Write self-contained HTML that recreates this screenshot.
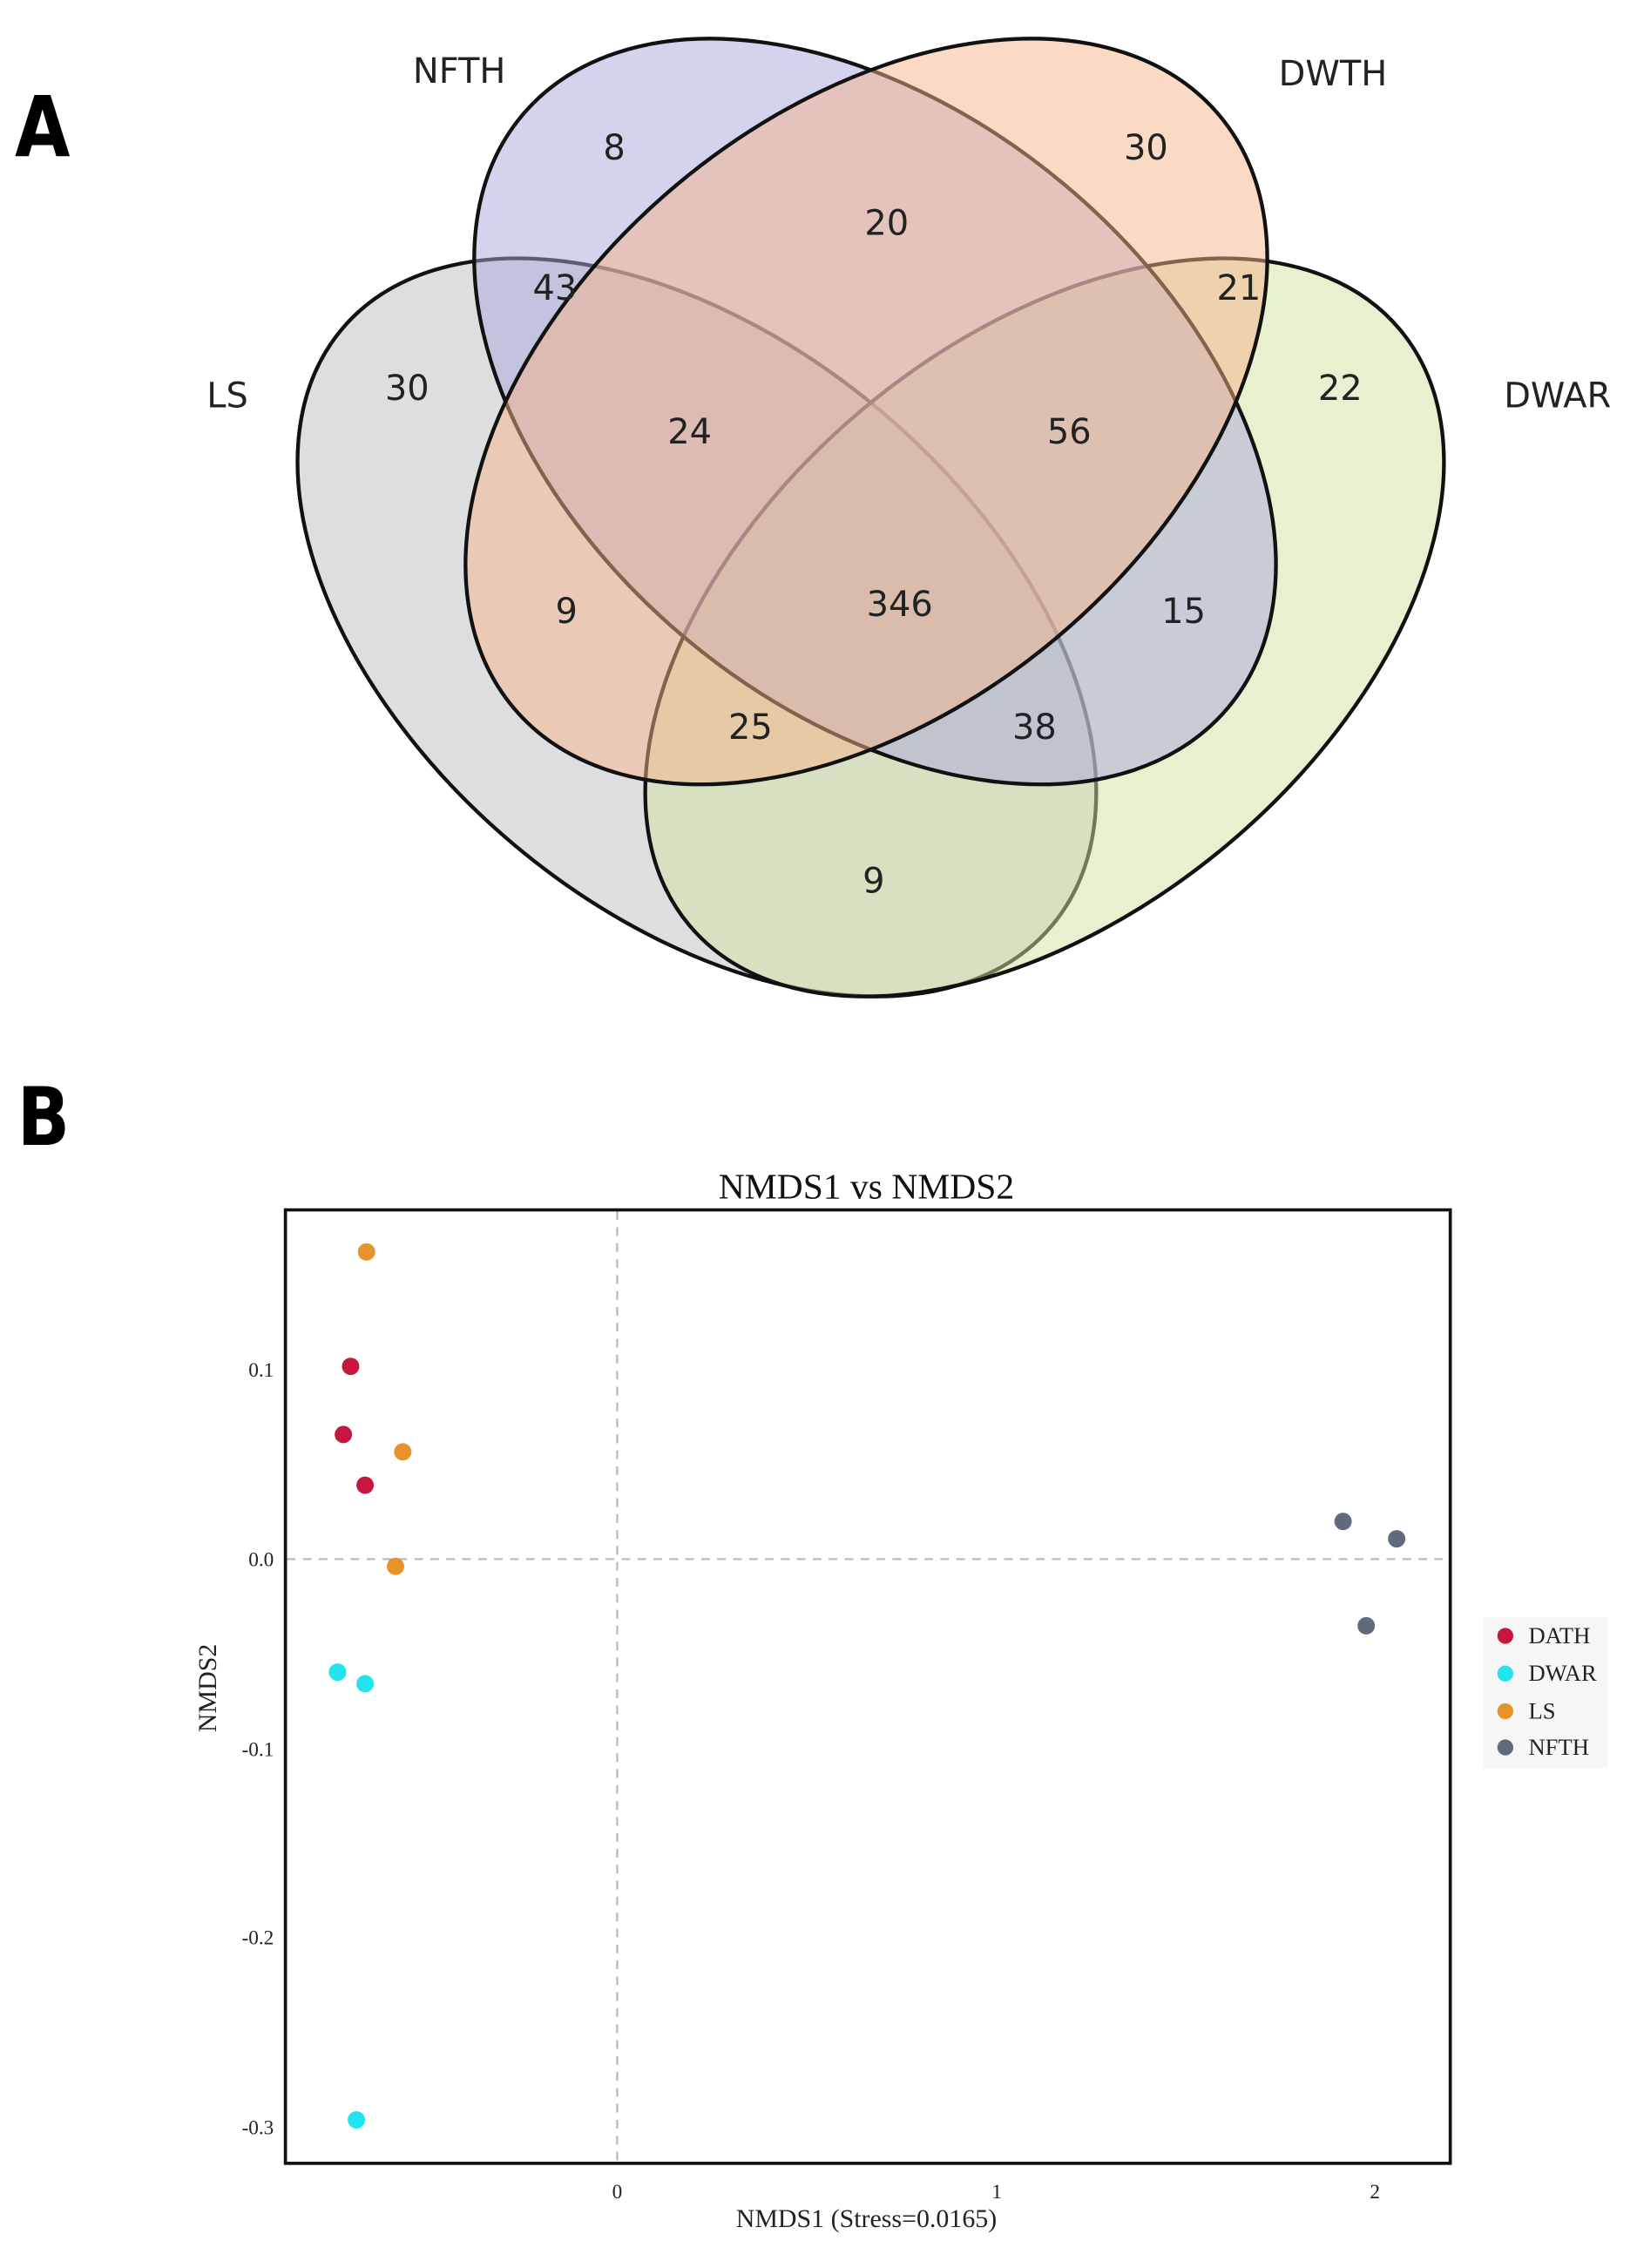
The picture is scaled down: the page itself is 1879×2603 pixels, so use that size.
<!DOCTYPE html>
<html><head><meta charset="utf-8"><style>
html,body{margin:0;padding:0;background:#fff;}
svg{display:block;}
</style></head><body>
<svg width="1879" height="2603" viewBox="0 0 1879 2603" xmlns="http://www.w3.org/2000/svg">
<g transform="scale(1.663)">
<!-- Panel A -->
<text x="10" y="108" font-family="DejaVu Sans, Liberation Sans, sans-serif" font-size="58" font-weight="bold" transform="scale(0.85,1) translate(2,0)">A</text>
<g stroke="#111" stroke-width="2.6">
<ellipse cx="481" cy="433" rx="320" ry="196" transform="rotate(40 481 433)" fill="rgb(190,190,196)" fill-opacity="0.5"/>
<ellipse cx="721" cy="433" rx="320" ry="196" transform="rotate(-40 721 433)" fill="rgb(208,226,160)" fill-opacity="0.5"/>
<ellipse cx="604" cy="284" rx="318" ry="204" transform="rotate(40 604 284)" fill="rgb(168,168,222)" fill-opacity="0.5"/>
<ellipse cx="598" cy="284" rx="318" ry="204" transform="rotate(-40 598 284)" fill="rgb(245,180,140)" fill-opacity="0.5"/>
</g>
<g font-family="DejaVu Sans, Liberation Sans, sans-serif" font-size="24" fill="#222" text-anchor="middle">
<text x="317" y="57">NFTH</text>
<text x="920" y="59">DWTH</text>
<text x="157" y="281">LS</text>
<text x="1075" y="281">DWAR</text>
</g>
<g font-family="DejaVu Sans, Liberation Sans, sans-serif" font-size="24" fill="#222" text-anchor="middle">
<text x="424" y="110">8</text>
<text x="791" y="110">30</text>
<text x="612" y="162">20</text>
<text x="383" y="207">43</text>
<text x="855" y="207">21</text>
<text x="281" y="276">30</text>
<text x="925" y="276">22</text>
<text x="476" y="306">24</text>
<text x="738" y="306">56</text>
<text x="391" y="430">9</text>
<text x="621" y="425">346</text>
<text x="817" y="430">15</text>
<text x="518" y="510">25</text>
<text x="714" y="510">38</text>
<text x="603" y="616">9</text>
</g>
<!-- Panel B -->
<text x="12" y="790" font-family="DejaVu Sans, Liberation Sans, sans-serif" font-size="56" font-weight="bold" transform="scale(0.85,1) translate(2,0)">B</text>
<text x="598" y="827" font-family="Liberation Serif, serif" font-size="25" text-anchor="middle" fill="#111">NMDS1 vs NMDS2</text>
<rect x="1024" y="1116" width="86" height="104" fill="#f6f6f6"/>
<g stroke="#bbb" stroke-width="1.4" stroke-dasharray="6,5">
<line x1="426" y1="836" x2="426" y2="1492"/>
<line x1="198" y1="1076" x2="1000" y2="1076"/>
</g>
<rect x="197" y="835" width="804" height="658" fill="none" stroke="#111" stroke-width="2.2"/>
<g font-family="Liberation Serif, serif" font-size="14" fill="#222" text-anchor="end">
<text x="189" y="950">0.1</text>
<text x="189" y="1081">0.0</text>
<text x="189" y="1212">-0.1</text>
<text x="189" y="1342">-0.2</text>
<text x="189" y="1473">-0.3</text>
</g>
<g font-family="Liberation Serif, serif" font-size="14" fill="#222" text-anchor="middle">
<text x="426" y="1517">0</text>
<text x="688" y="1517">1</text>
<text x="949" y="1517">2</text>
</g>
<text x="598" y="1537" font-family="Liberation Serif, serif" font-size="18" text-anchor="middle" fill="#222">NMDS1 (Stress=0.0165)</text>
<text transform="translate(149,1165) rotate(-90)" font-family="Liberation Serif, serif" font-size="18" text-anchor="middle" fill="#222">NMDS2</text>
<g fill="#e8922a"><circle cx="253" cy="864" r="6"/><circle cx="278" cy="1002" r="6"/><circle cx="273" cy="1081" r="6"/></g>
<g fill="#c8173f"><circle cx="242" cy="943" r="6"/><circle cx="237" cy="990" r="6"/><circle cx="252" cy="1025" r="6"/></g>
<g fill="#22e3ee"><circle cx="233" cy="1154" r="6"/><circle cx="252" cy="1162" r="6"/><circle cx="246" cy="1463" r="6"/></g>
<g fill="#5f6b7d"><circle cx="927" cy="1050" r="6"/><circle cx="964" cy="1062" r="6"/><circle cx="943" cy="1122" r="6"/></g>
<circle cx="1039" cy="1129" r="5.5" fill="#c8173f"/>
<circle cx="1039" cy="1155" r="5.5" fill="#22e3ee"/>
<circle cx="1039" cy="1181" r="5.5" fill="#e8922a"/>
<circle cx="1039" cy="1206" r="5.5" fill="#5f6b7d"/>
<g font-family="Liberation Serif, serif" font-size="16" fill="#222">
<text x="1055" y="1134">DATH</text>
<text x="1055" y="1160">DWAR</text>
<text x="1055" y="1186">LS</text>
<text x="1055" y="1211">NFTH</text>
</g>
</g>
</svg>
</body></html>
